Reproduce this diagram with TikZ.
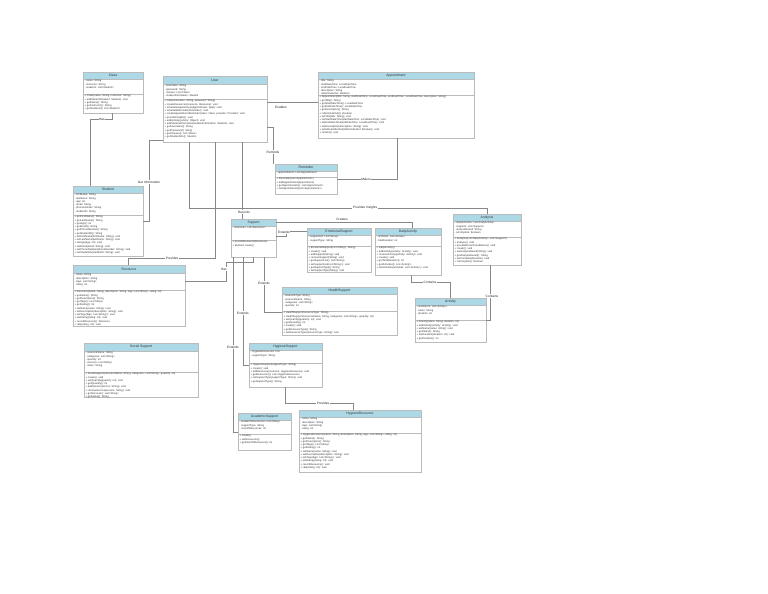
\documentclass[tikz,border=0pt]{standalone}
\usepackage{fontspec}
\setmainfont{Liberation Sans}
\usetikzlibrary{fit,calc}
\definecolor{hdr}{HTML}{ADD8E6}
\definecolor{boxc}{HTML}{BBBBBB}
\definecolor{linec}{HTML}{888888}
\tikzset{
  txt/.style={font=\fontsize{2.6}{3.25}\selectfont, align=left, inner sep=0pt, anchor=north west, text=black!80},
  ttl/.style={font=\fontsize{3.4}{4}\selectfont, inner sep=0pt, text=black!80},
  lbl/.style={font=\fontsize{3.2}{4}\selectfont, fill=white, inner sep=0.6pt, text=black!85},
  conn/.style={draw=linec, line width=0.5pt},
  whole/.style={draw=boxc, line width=0.4pt, inner sep=0pt}
}
% name x1 y1 x2 yh ya yb title attrs ; methods set by \umlops
\newcommand\umlbox[9]{%
  \fill[hdr] (#2,#3) rectangle (#4,#5);
  \draw[boxc, line width=0.4pt] (#2,#5) -- (#4,#5) (#2,#6) -- (#4,#6);
  \path (#2,#3) coordinate (#1-nw) (#4,#7) coordinate (#1-se) (#2,#6) coordinate (#1-m);
  \node[whole, fit=(#1-nw)(#1-se)] (#1) {};
  \node[ttl] (#1-t) at ($(#2,#3)!0.5!(#4,#5)$) {#8};
  \node[txt] (#1-a) at ([shift={(1.5,0.8)}]#2,#5) {#9};
}
\newcommand\umlops[2]{\node[txt] (#1-o) at ([shift={(1.5,0.8)}]#1-m) {#2};}
\begin{document}
\begin{tikzpicture}[x=1pt,y=-1pt]
\useasboundingbox (0,0) rectangle (768,594);
\fill[white] (0,0) rectangle (768,594);

\umlbox{Class}{83}{72}{143}{79}{94}{113}{Class}{- name: String\\- instructor: String\\- students: List<Student>}
\umlops{Class}{+ Class(name: String, instructor: String)\\+ addStudent(student: Student): void\\+ getName(): String\\+ getInstructor(): String\\+ getStudents(): List<Student>}

\umlbox{User}{163}{76}{267}{84}{99}{142}{User}{- username: String\\- password: String\\- classes: List<Class>\\- studentInformation: Student}
\umlops{User}{+ User(username: String, password: String)\\+ createResources(resource: Resource): void\\+ scheduleAppointment(appointment: Appt): void\\+ scheduleReminder(Reminder): void\\+ createAppointmentReminder(class: Class, provider: Provider): void\\+ provideInsights(): void\\+ addActivity(activity: Object): void\\+ addStudentInformation(studentInformation: Student): void\\+ getUsername(): String\\+ getPassword(): String\\+ getClasses(): List<Class>\\+ getStudentInfo(): Student}

\umlbox{Appt}{318}{72}{474}{79}{95}{138}{Appointment}{- title: String\\- startDateTime: LocalDateTime\\- endDateTime: LocalDateTime\\- description: String\\- isReminderSet: Boolean}
\umlops{Appt}{+ Appointment(title: String, startDateTime: LocalDateTime, endDateTime: LocalDateTime, description: String)\\+ getTitle(): String\\+ getStartDateTime(): LocalDateTime\\+ getEndDateTime(): LocalDateTime\\+ getDescription(): String\\+ isReminderSet(): Boolean\\+ setTitle(title: String): void\\+ setStartDateTime(startDateTime: LocalDateTime): void\\+ setEndDateTime(endDateTime: LocalDateTime): void\\+ setDescription(description: String): void\\+ setIsReminderSet(isReminderSet: Boolean): void\\+ remind(): void}

\umlbox{Rem}{275}{164}{337}{171}{177}{194}{Reminder}{- appointments: List<Appointment>}
\umlops{Rem}{+ Reminder(List<Appointment>)\\+ addAppointment(Appointment)\\+ getAppointments(): List<Appointment>\\+ setAppointments(List<Appointment>)}

\umlbox{Stu}{73}{186}{143}{193}{215}{256}{Student}{- firstName: String\\- lastName: String\\- age: int\\- email: String\\- phoneNumber: String\\- studentID: String}
\umlops{Stu}{+ getFirstName(): String\\+ getLastName(): String\\+ getAge(): int\\+ getEmail(): String\\+ getPhoneNumber(): String\\+ getStudentID(): String\\+ setFirstName(firstName: String): void\\+ setLastName(lastName: String): void\\+ setAge(age: int): void\\+ setEmail(email: String): void\\+ setPhoneNumber(phoneNumber: String): void\\+ setStudentID(studentID: String): void}

\umlbox{Sup}{231}{219}{276}{226}{240}{257}{Support}{- resources: List<Resource>}
\umlops{Sup}{+ provideResource(Resource)\\+ abstract create()}

\umlbox{Emo}{307}{228}{371}{235}{246}{272}{EmotionalSupport}{- supportList: List<String>\\- supportType: String}
\umlops{Emo}{+ EmotionalSupport(List<String>, String)\\+ create(): void\\+ addSupport(String): void\\+ removeSupport(String): void\\+ getSupportList(): List<String>\\+ setSupportList(List<String>): void\\+ getSupportType(): String\\+ setSupportType(String): void}

\umlbox{Daily}{375}{228}{441}{235}{246}{275}{DailyActivity}{- activities: List<Activity>\\- totalDuration: int}
\umlops{Daily}{+ DailyActivity()\\+ addActivity(activity: Activity): void\\+ removeActivity(activity: Activity): void\\+ create(): void\\+ getTotalDuration(): int\\+ getActivities(): List<Activity>\\+ setActivities(activities: List<Activity>): void}

\umlbox{Ana}{453}{214}{521}{221}{237}{265}{Analysis}{- dailyActivities: List<DailyActivity>\\- supports: List<Support>\\- analysisResult: String\\- isComplete: Boolean}
\umlops{Ana}{+ Analysis(List<DailyActivity>, List<Support>)\\+ analyze(): void\\+ provideRecommendations(): void\\+ create(): void\\+ setAnalysisResult(String): void\\+ getAnalysisResult(): String\\+ setComplete(Boolean): void\\+ isComplete(): Boolean}

\umlbox{Res}{73}{265}{185}{273}{290}{326}{Resource}{- name: String\\- description: String\\- tags: List<String>\\- rating: int}
\umlops{Res}{+ Resource(name: String, description: String, tags: List<String>, rating: int)\\+ getName(): String\\+ getDescription(): String\\+ getTags(): List<String>\\+ getRating(): int\\+ setName(name: String): void\\+ setDescription(description: String): void\\+ setTags(tags: List<String>): void\\+ setRating(rating: int): void\\+ recordResource(): Resource\\+ rate(rating: int): void}

\umlbox{Health}{282}{287}{397}{294}{311}{335}{HealthSupport}{- resourceType: String\\- resourceName: String\\- categories: List<String>\\- quantity: int}
\umlops{Health}{+ HealthSupport(resourceType: String)\\+ HealthSupport(resourceName: String, categories: List<String>, quantity: int)\\+ setQuantity(quantity: int): void\\+ getQuantity(): int\\+ create(): void\\+ getResourceType(): String\\+ setResourceType(resourceType: String): void}

\umlbox{Act}{415}{298}{486}{305}{320}{342}{Activity}{- activityList: List<Activity>\\- name: String\\- duration: int}
\umlops{Act}{+ Activity(name: String, duration: int)\\+ addActivity(activity: Activity): void\\+ setName(name: String): void\\+ getName(): String\\+ setDuration(duration: int): void\\+ getDuration(): int}

\umlbox{Soc}{84}{343}{198}{351}{372}{397}{Social Support}{- resourceName: String\\- categories: List<String>\\- quantity: int\\- services: List<String>\\- name: String}
\umlops{Soc}{+ SocialSupport(resourceName: String, categories: List<String>, quantity: int)\\+ create(): void\\+ setQuantity(quantity: int): void\\+ getQuantity(): int\\+ addService(service: String): void\\+ removeService(service: String): void\\+ getServices(): List<String>\\+ getName(): String}

\umlbox{Hyg}{249}{343}{322}{350}{363}{387}{HygieneSupport}{- hygieneResources: List\\- supportType: String}
\umlops{Hyg}{+ HygieneSupport(supportType: String)\\+ create(): void\\+ addResource(resource: HygieneResource): void\\+ getResources(): List<HygieneResource>\\+ setSupportType(supportType: String): void\\+ getSupportType(): String}

\umlbox{Acad}{238}{413}{291}{420}{434}{450}{AcademicSupport}{- academicResources: List<String>\\- supportType: String\\- numOfResources: int}
\umlops{Acad}{+ create()\\+ setResources()\\+ getNumOfResources(): int}

\umlbox{HRes}{299}{410}{421}{417}{433}{472}{HygieneResource}{- name: String\\- description: String\\- tags: List<String>\\- rating: int}
\umlops{HRes}{+ HygieneResource(name: String, description: String, tags: List<String>, rating: int)\\+ getName(): String\\+ getDescription(): String\\+ getTags(): List<String>\\+ getRating(): int\\+ setName(name: String): void\\+ setDescription(description: String): void\\+ setTags(tags: List<String>): void\\+ setRating(rating: int): void\\+ recordResource(): void\\+ rate(rating: int): void}

% connectors
\draw[conn] (Class.south -| 112,0) |- (90,119) -- (Stu.north -| 90,0);
\node[lbl] (l-has1) at (102,119) {Has};
\draw[conn] (User.west |- 0,140) -| (149,221) -- (Stu.east |- 0,221);
\node[lbl] (l-get) at (149,182) {Get Information};
\draw[conn] (User.south -| 189,0) |- (487,208) -- (Ana.north -| 487,0);
\node[lbl] (l-ins) at (365,208) {Provides Insights};
\draw[conn] (User.south -| 215,0) |- (128,258) -- (Res.north -| 128,0);
\node[lbl] (l-prov1) at (172,258) {Provides};
\draw[conn] (User.south -| 242,0) -- (Sup.north -| 242,0);
\node[lbl] (l-rec) at (244,212) {Records};
\draw[conn] (User.east |- 0,127) -| (Rem.north -| 273,0);
\node[lbl] (l-remi) at (273,152) {Reminds};
\draw[conn] (User.east |- 0,102) -- (Appt.west |- 0,102);
\node[lbl] (l-en) at (281,107) {Enables};
\draw[conn] (Appt.south -| 397,0) |- (Rem.east |- 0,179);
\node[lbl] (l-mk) at (366,179) {Makes};
\draw[conn] (Sup.east |- 0,222) -| (Daily.north -| 412,0);
\node[lbl] (l-cr) at (342,219) {Creates};
\draw[conn] (Emo.west |- 0,231) -| (286,236) -- (Sup.east |- 0,236);
\node[lbl] (l-ex0) at (284,232) {Extends};
\draw[conn] (Sup.south -| 253,0) |- (226,262) |- (Res.east |- 0,281);
\node[lbl] (l-has2) at (224,269) {Has};
\draw[conn] (Sup.south -| 264,0) |- (Health.west |- 0,312);
\node[lbl] (l-ex1) at (264,283) {Extends};
\draw[conn] (Sup.south -| 243,0) |- (Hyg.west |- 0,365);
\node[lbl] (l-ex2) at (243,313) {Extends};
\draw[conn] (Sup.south -| 233,0) |- (Acad.west |- 0,432);
\node[lbl] (l-ex3) at (233,347) {Extends};
\draw[conn] (Hyg.south -| 285,0) |- (353,403) -- (HRes.north -| 353,0);
\node[lbl] (l-prov2) at (323,403) {Provides};
\draw[conn] (Daily.south -| 411,0) |- (450,282) -- (Act.north -| 450,0);
\node[lbl] (l-con1) at (430,282) {Contains};
\draw[conn] (Ana.south -| 490,0) |- (Act.east |- 0,320);
\node[lbl] (l-con2) at (492,296) {Contains};
\end{tikzpicture}
\end{document}
